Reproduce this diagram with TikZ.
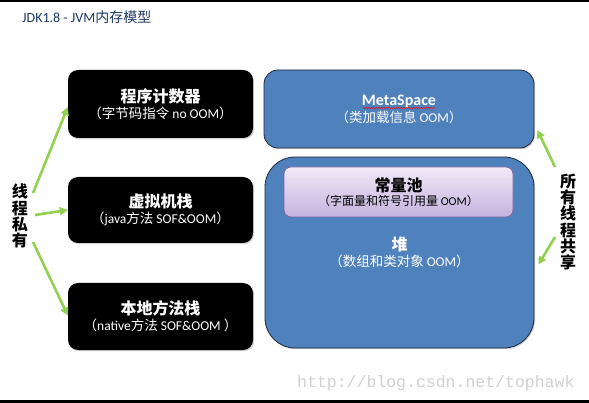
\documentclass[tikz,border=0pt]{standalone}
\usepackage{fontspec}
\setmainfont{Carlito}
\newfontfamily\cjk{Noto Sans CJK SC}
\newfontfamily\wmfont{Liberation Mono}
\usetikzlibrary{shadows,arrows.meta,calc,decorations.pathmorphing}
\definecolor{titleblue}{HTML}{1F3864}
\definecolor{boxblue}{HTML}{4F81BD}
\definecolor{boxedge}{HTML}{1F2A3A}
\definecolor{arrowgreen}{HTML}{92D050}
\definecolor{cptop}{HTML}{F0EAF8}
\definecolor{cpbot}{HTML}{C5B1DE}
\definecolor{cpedge}{HTML}{8064A2}
\newcommand\mytitle[1]{{\fontsize{16}{18}\selectfont\bfseries #1}}
\newcommand\mysub[1]{{\fontsize{13.5}{15}\selectfont #1}}
\tikzset{
  blackbox/.style={rectangle, rounded corners=10pt, fill=black, text=white,
    minimum width=185pt, align=center, inner sep=0pt,
    drop shadow={shadow xshift=1.2pt, shadow yshift=-1.2pt, opacity=0.35}},
  bluebox/.style={rectangle, fill=boxblue, draw=boxedge, line width=0.8pt, text=white,
    align=center, inner sep=0pt,
    drop shadow={shadow xshift=1.2pt, shadow yshift=-1.2pt, opacity=0.35}},
  cpbox/.style={rectangle, rounded corners=7pt, top color=cptop, bottom color=cpbot,
    draw=cpedge, line width=0.8pt, text=black, align=center, inner sep=0pt,
    minimum width=229pt, minimum height=50pt},
  greenarrow/.style={draw=arrowgreen, line width=2.6pt,
    -{Triangle[length=8pt,width=8pt]}, shorten >=0pt},
  vtext/.style={align=center, inner sep=0pt, font=\cjk\bfseries\fontsize{16}{16.2}\selectfont}
}
\begin{document}
\begin{tikzpicture}[x=1pt,y=-1pt]
\useasboundingbox (0,0) rectangle (589,403);
\fill[white] (0,0) rectangle (589,403);
\fill[black] (0,0) rectangle (589,2);
\fill[black] (0,400) rectangle (589,403);

\node[anchor=west, text=titleblue, inner sep=0pt, font=\fontsize{14}{16}\selectfont] (title) at (22,17) {JDK1.8 - JVM{\cjk 内存模型}};

% private (per-thread) areas
\node[blackbox, minimum height=68pt] (pc) at (160.5,104)
  {\mytitle{\cjk 程序计数器}\\[2pt]\mysub{\cjk （字节码指令 {\rmfamily no OOM}）}};
\node[blackbox, minimum height=66pt] (vm) at (160.5,210)
  {\mytitle{\cjk 虚拟机栈}\\[2pt]\mysub{\cjk （{\rmfamily java}方法 {\rmfamily SOF\&OOM}）}};
\node[blackbox, minimum height=67pt] (nm) at (160.5,316.5)
  {\mytitle{\cjk 本地方法栈}\\[2pt]\mysub{\cjk （{\rmfamily native}方法 {\rmfamily SOF\&OOM} ）}};

% shared areas
\node[bluebox, rounded corners=14pt, minimum width=270pt, minimum height=78pt] (meta) at (399,109)
  {\mytitle{MetaSpace}\\[2pt]\mysub{\cjk （类加载信息 {\rmfamily OOM}）}};
\node[bluebox, rounded corners=30pt, minimum width=269pt, minimum height=191pt] (heap) at (399.5,252.5)
  {\mytitle{\cjk 堆}\\[2pt]\mysub{\cjk （数组和类对象 {\rmfamily OOM}）}};
\node[cpbox] (cp) at (398.5,192)
  {\mytitle{\cjk 常量池}\\[2pt]{\fontsize{12}{14}\selectfont\cjk （字面量和符号引用量 {\rmfamily OOM}）}};

% spell-check underline
\draw[red, line width=0.5pt, decorate, decoration={snake, amplitude=0.6pt, segment length=2.5pt}]
  ($(meta.center)+(-36,-1)$) -- ($(meta.center)+(36,-1)$);

% side labels
\node[vtext] (priv) at (20,216) {线\\程\\私\\有};
\node[vtext] (shared) at (568,222) {所\\有\\线\\程\\共\\享};

% arrows
\coordinate (p1) at (33,193);
\coordinate (p2) at (35,215);
\coordinate (p3) at (33,242);
\draw[greenarrow] (p1) -- ($(pc.west)+(0,3)$);
\draw[greenarrow] (p2) -- (vm.west);
\draw[greenarrow] (p3) -- ($(nm.west)+(0,-1)$);

\coordinate (s1) at (555,167);
\coordinate (s2) at (555,237);
\draw[greenarrow] (s1) -- ($(meta.east)+(3,21)$);
\draw[greenarrow] (s2) -- ($(heap.east)+(4,12)$);

% watermark
\node[anchor=west, inner sep=0pt, text=black!18, font=\wmfont\fontsize{16.5}{18}\selectfont] (wm) at (297,383) {http://blog.csdn.net/tophawk};
\end{tikzpicture}
\end{document}
